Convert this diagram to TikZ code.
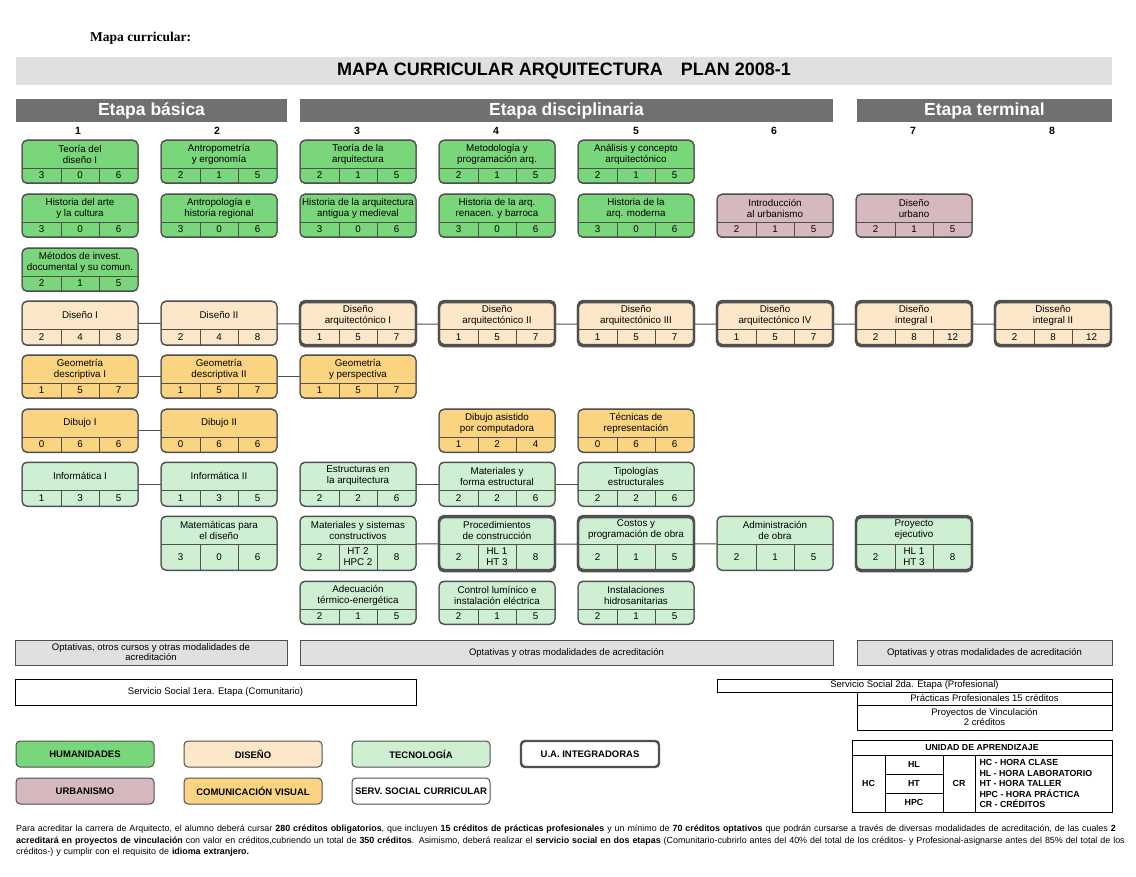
\documentclass[tikz,border=0pt]{standalone}
\usepackage{fontspec}
\setmainfont{Liberation Serif}
\setsansfont{Liberation Sans}
\usetikzlibrary{positioning}
\definecolor{hum}{RGB}{122,214,122}
\definecolor{dis}{RGB}{252,232,200}
\definecolor{tec}{RGB}{206,239,210}
\definecolor{urb}{RGB}{214,185,190}
\definecolor{cvis}{RGB}{250,212,128}
\definecolor{barlight}{RGB}{224,224,224}
\definecolor{bardark}{RGB}{112,112,112}
\definecolor{edge}{RGB}{80,80,80}
\tikzstyle{ua} = [rectangle, rounded corners=5pt, minimum width=116pt, draw=edge, line width=1pt, anchor=north, inner sep=0pt]
\tikzstyle{integ} = [line width=2.4pt]
\tikzstyle{link} = [draw=edge, line width=1pt]
\tikzstyle{etapa} = [rectangle, fill=bardark, text=white, font=\sffamily\bfseries\fontsize{17.5}{18}\selectfont, inner sep=0pt]
\tikzstyle{optbox} = [rectangle, draw=edge, fill=barlight, font=\sffamily\fontsize{9.5}{10}\selectfont, align=center, inner sep=0pt]
\tikzstyle{plain} = [rectangle, draw=black, fill=white, font=\sffamily\fontsize{9.5}{10}\selectfont, align=center, inner sep=0pt]
\tikzstyle{legend} = [rectangle, rounded corners=4pt, draw=edge, line width=1pt, minimum width=138pt, minimum height=26pt, font=\sffamily\bfseries\fontsize{9.5}{10}\selectfont]
% #1 name, #2 center x, #3 top y, #4 style, #5 title, #6 #7 #8 numbers, #9 height
\newcommand{\ua}[9]{%
  \node (#1) [ua, #4, minimum height=#9pt] at (#2,#3) {};
  \node [align=center] at (#2,#3+14) {#5};
  \draw [edge, line width=0.8pt] (#2-58,#3+28) -- (#2+58,#3+28)
    (#2-19,#3+28) -- (#2-19,#3+#9) (#2+19,#3+28) -- (#2+19,#3+#9);
  \node [align=center] at (#2-38.5,#3+28+#9/2-14) {#6};
  \node [align=center] at (#2,#3+28+#9/2-14) {#7};
  \node [align=center] at (#2+38.5,#3+28+#9/2-14) {#8};
  \draw [ua, #4, fill=none, minimum height=#9pt] (#2-58,#3) rectangle (#2+58,#3+#9);
}

\begin{document}
\begin{tikzpicture}[x=1pt, y=-1pt, font=\sffamily\fontsize{9.8}{11}\selectfont, inner sep=0pt]
\useasboundingbox (0,0) rectangle (1136,877);

\node (mapa) [anchor=west, font=\rmfamily\bfseries\fontsize{13.5}{14}\selectfont] at (90,38) {Mapa curricular:};
\node (titulo) [fill=barlight, minimum width=1096pt, minimum height=28pt, font=\sffamily\bfseries\fontsize{18}{19}\selectfont] at (564,71) {MAPA CURRICULAR ARQUITECTURA\quad PLAN 2008-1};
\node (basica) [etapa, minimum width=271pt, minimum height=23pt] at (151.5,110.5) {Etapa básica};
\node (disc) [etapa, minimum width=533pt, minimum height=23pt] at (566.5,110.5) {Etapa disciplinaria};
\node (term) [etapa, minimum width=255pt, minimum height=23pt] at (984.5,110.5) {Etapa terminal};
\foreach \n/\x in {1/78,2/217,3/357,4/496,5/636,6/774,7/913,8/1052}
  \node (num\n) [font=\sffamily\bfseries\fontsize{10.5}{11}\selectfont] at (\x,131) {\n};

% columna 1
\ua{teo1}{80}{140}{fill=hum}{Teoría del\\diseño I}{3}{0}{6}{43}
\ua{hart}{80}{194}{fill=hum}{Historia del arte\\y la cultura}{3}{0}{6}{43}
\ua{met}{80}{248}{fill=hum}{Métodos de invest.\\documental y su comun.}{2}{1}{5}{43}
\ua{dis1}{80}{301}{fill=dis}{Diseño I}{2}{4}{8}{44}
\ua{geo1}{80}{355}{fill=cvis}{Geometría\\descriptiva I}{1}{5}{7}{43}
\ua{dib1}{80}{409}{fill=cvis}{Dibujo I}{0}{6}{6}{43}
\ua{inf1}{80}{462}{fill=tec}{Informática I}{1}{3}{5}{44}
% columna 2
\ua{antr}{219}{140}{fill=hum}{Antropometría\\y ergonomía}{2}{1}{5}{43}
\ua{anth}{219}{194}{fill=hum}{Antropología e\\historia regional}{3}{0}{6}{43}
\ua{dis2}{219}{301}{fill=dis}{Diseño II}{2}{4}{8}{44}
\ua{geo2}{219}{355}{fill=cvis}{Geometría\\descriptiva II}{1}{5}{7}{43}
\ua{dib2}{219}{409}{fill=cvis}{Dibujo II}{0}{6}{6}{43}
\ua{inf2}{219}{462}{fill=tec}{Informática II}{1}{3}{5}{44}
\ua{mat}{219}{516}{fill=tec}{Matemáticas para\\el diseño}{3}{0}{6}{54}
% columna 3
\ua{teoa}{358}{140}{fill=hum}{Teoría de la\\arquitectura}{2}{1}{5}{43}
\ua{hist1}{358}{194}{fill=hum}{Historia de la arquitectura\\antigua y medieval}{3}{0}{6}{43}
\ua{da1}{358}{301}{fill=dis, integ}{Diseño\\arquitectónico I}{1}{5}{7}{44}
\ua{geop}{358}{355}{fill=cvis}{Geometría\\y perspectiva}{1}{5}{7}{43}
\ua{est}{358}{462}{fill=tec}{Estructuras en\\la arquitectura}{2}{2}{6}{44}
\ua{msc}{358}{516}{fill=tec}{Materiales y sistemas\\constructivos}{2}{HT 2\\HPC 2}{8}{54}
\ua{ade}{358}{581}{fill=tec}{Adecuación\\térmico-energética}{2}{1}{5}{43}
% columna 4
\ua{metp}{497}{140}{fill=hum}{Metodología y\\programación arq.}{2}{1}{5}{43}
\ua{hist2}{497}{194}{fill=hum}{Historia de la arq.\\renacen. y barroca}{3}{0}{6}{43}
\ua{da2}{497}{301}{fill=dis, integ}{Diseño\\arquitectónico II}{1}{5}{7}{44}
\ua{dac}{497}{409}{fill=cvis}{Dibujo asistido\\por computadora}{1}{2}{4}{43}
\ua{mfe}{497}{462}{fill=tec}{Materiales y\\forma estructural}{2}{2}{6}{44}
\ua{proc}{497}{516}{fill=tec, integ}{Procedimientos\\de construcción}{2}{HL 1\\HT 3}{8}{54}
\ua{clum}{497}{581}{fill=tec}{Control lumínico e\\instalación eléctrica}{2}{1}{5}{43}
% columna 5
\ua{anal}{636}{140}{fill=hum}{Análisis y concepto\\arquitectónico}{2}{1}{5}{43}
\ua{hist3}{636}{194}{fill=hum}{Historia de la\\arq. moderna}{3}{0}{6}{43}
\ua{da3}{636}{301}{fill=dis, integ}{Diseño\\arquitectónico III}{1}{5}{7}{44}
\ua{trep}{636}{409}{fill=cvis}{Técnicas de\\representación}{0}{6}{6}{43}
\ua{tip}{636}{462}{fill=tec}{Tipologías\\estructurales}{2}{2}{6}{44}
\ua{cost}{636}{516}{fill=tec, integ}{Costos y\\programación de obra}{2}{1}{5}{54}
\ua{inst}{636}{581}{fill=tec}{Instalaciones\\hidrosanitarias}{2}{1}{5}{43}
% columna 6
\ua{iurb}{775}{194}{fill=urb}{Introducción\\al urbanismo}{2}{1}{5}{43}
\ua{da4}{775}{301}{fill=dis, integ}{Diseño\\arquitectónico IV}{1}{5}{7}{44}
\ua{adm}{775}{516}{fill=tec}{Administración\\de obra}{2}{1}{5}{54}
% columna 7 y 8
\ua{durb}{914}{194}{fill=urb}{Diseño\\urbano}{2}{1}{5}{43}
\ua{di1}{914}{301}{fill=dis, integ}{Diseño\\integral I}{2}{8}{12}{44}
\ua{pej}{914}{516}{fill=tec, integ}{Proyecto\\ejecutivo}{2}{HL 1\\HT 3}{8}{54}
\ua{di2}{1053}{301}{fill=dis, integ}{Disseño\\integral II}{2}{8}{12}{44}

% seriaciones
\draw [link] (dis1) -- (dis2) -- (da1) -- (da2) -- (da3) -- (da4) -- (di1) -- (di2);
\draw [link] (geo1) -- (geo2) -- (geop);
\draw [link] (dib1) -- (dib2);
\draw [link] (inf1) -- (inf2);
\draw [link] (est) -- (mfe) -- (tip);
\draw [link] (msc) -- (proc) -- (cost) -- (adm);

% optativas y servicio social
\node (opt1) [optbox, minimum width=272pt, minimum height=25pt] at (151,652.5) {Optativas, otros cursos y otras modalidades de\\acreditación};
\node (opt2) [optbox, minimum width=533pt, minimum height=25pt] at (566.5,652.5) {Optativas y otras modalidades de acreditación};
\node (opt3) [optbox, minimum width=255pt, minimum height=25pt] at (984.5,652.5) {Optativas y otras modalidades de acreditación};
\node (ss1) [plain, minimum width=401pt, minimum height=26pt] at (215.5,692) {Servicio Social 1era. Etapa (Comunitario)};
\node (ss2) [plain, minimum width=395pt, minimum height=13pt] at (914.5,685.5) {Servicio Social 2da. Etapa (Profesional)};
\node (pp) [plain, minimum width=255pt, minimum height=13pt] at (984.5,698.5) {Prácticas Profesionales 15 créditos};
\node (pv) [plain, minimum width=255pt, minimum height=25pt] at (984.5,717.5) {Proyectos de Vinculación\\2 créditos};

% simbologia
\node (lhum) [legend, fill=hum] at (85,754) {HUMANIDADES};
\node (ldis) [legend, fill=dis] at (253,754) {DISEÑO};
\node (ltec) [legend, fill=tec] at (421,754) {TECNOLOGÍA};
\node (lint) [legend, fill=white, line width=2.4pt] at (590,754) {U.A. INTEGRADORAS};
\node (lurb) [legend, fill=urb] at (85,791) {URBANISMO};
\node (lcv) [legend, fill=cvis] at (253,791) {COMUNICACIÓN VISUAL};
\node (lss) [legend, fill=white] at (421,791) {SERV. SOCIAL CURRICULAR};

\begin{scope}[font=\sffamily\bfseries\fontsize{8.8}{9}\selectfont, line width=1pt]
\draw (852,740) rectangle (1112,812);
\draw (852,755) -- (1112,755) (885,755) -- (885,812) (943,755) -- (943,812) (975,755) -- (975,812);
\draw [line width=0.6pt] (885,774) -- (943,774) (885,793) -- (943,793);
\node (ua) at (982,747.5) {UNIDAD DE APRENDIZAJE};
\node (thc) at (868.5,783.5) {HC};
\node (thl) at (914,764.5) {HL};
\node (tht) at (914,783.5) {HT};
\node (thpc) at (914,802.5) {HPC};
\node (tcr) at (959,783.5) {CR};
\node (tkey) [anchor=west, align=left, font=\sffamily\bfseries\fontsize{8.8}{10.5}\selectfont] at (979,783.5) {HC - HORA CLASE\\HL - HORA LABORATORIO\\HT - HORA TALLER\\HPC - HORA PRÁCTICA\\CR - CRÉDITOS};
\end{scope}

\node (nota) [anchor=north west, align=left, text width=1110pt, font=\sffamily\fontsize{8.9}{11.5}\selectfont] at (16,825) {Para acreditar la carrera de Arquitecto, el alumno deberá cursar \textbf{280 créditos obligatorios}, que incluyen \textbf{15 créditos de prácticas profesionales} y un mínimo de \textbf{70 créditos optativos} que podrán cursarse a través de diversas modalidades de acreditación, de las cuales \textbf{2 acreditará en proyectos de vinculación} con valor en créditos,cubriendo un total de \textbf{350 créditos}. Asimismo, deberá realizar el \textbf{servicio social en dos etapas} (Comunitario-cubrirlo antes del 40\% del total de los créditos- y Profesional-asignarse antes del 85\% del total de los créditos-) y cumplir con el requisito de \textbf{idioma extranjero.}};
\end{tikzpicture}
\end{document}
